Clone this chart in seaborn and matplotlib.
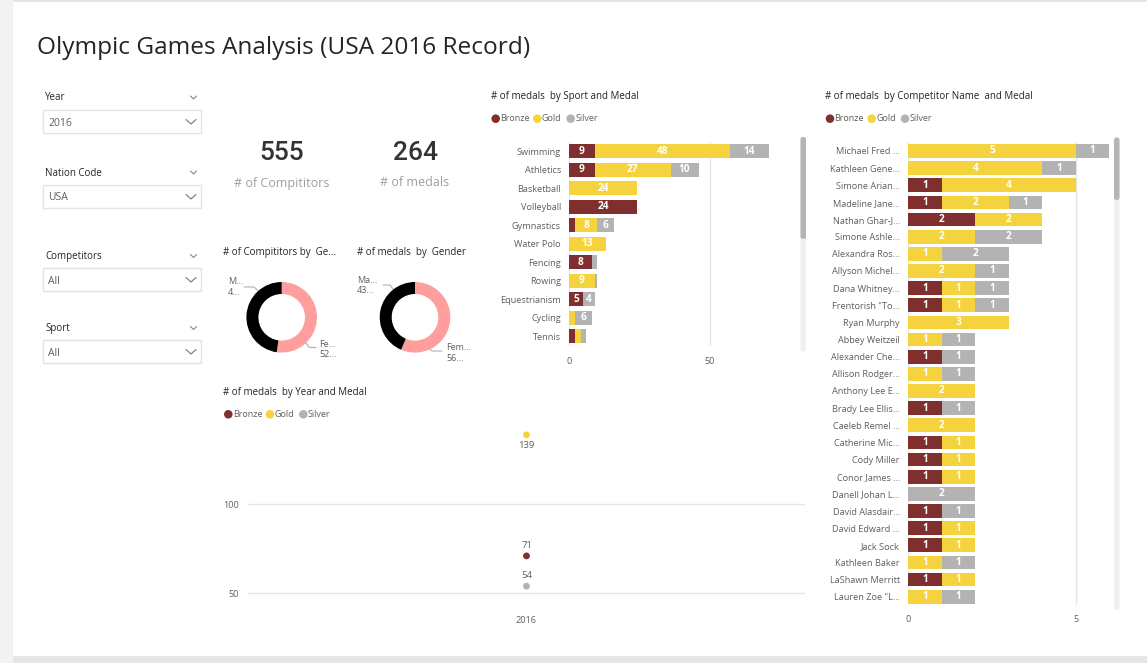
import numpy as np
import pandas as pd
import matplotlib
matplotlib.use("Agg")
import matplotlib.pyplot as plt
from matplotlib.patches import Rectangle, FancyBboxPatch
import seaborn as sns

W, H = 1147, 663

# ---- data ----
medal_types = ["Bronze", "Gold", "Silver"]
medal_colors = {"Bronze": "#7E2F2E", "Gold": "#F5D33F", "Silver": "#B3B3B3"}

sports = ["Swimming", "Athletics", "Basketball", "Volleyball", "Gymnastics", "Water Polo",
          "Fencing", "Rowing", "Equestrianism", "Cycling", "Tennis"]
sport_bronze = [9, 9, 0, 24, 2, 0, 8, 0, 5, 0, 2]
sport_gold = [48, 27, 24, 0, 8, 13, 0, 9, 0, 2, 2]
sport_silver = [14, 10, 0, 0, 6, 0, 2, 1, 4, 6, 2]

competitors = ["Michael Fred ...", "Kathleen Gene...", "Simone Arian...", "Madeline Jane...",
               "Nathan Ghar-J...", "Simone Ashle...", "Alexandra Ros...", "Allyson Michel...",
               "Dana Whitney...", "Frentorish \"To...", "Ryan Murphy", "Abbey Weitzeil",
               "Alexander Che...", "Allison Rodger...", "Anthony Lee E...", "Brady Lee Ellis...",
               "Caeleb Remel ...", "Catherine Mic...", "Cody Miller", "Conor James ...",
               "Danell Johan L...", "David Alasdair...", "David Edward ...", "Jack Sock",
               "Kathleen Baker", "LaShawn Merritt", "Lauren Zoe \"L..."]
comp_bronze = [0, 0, 1, 1, 2, 0, 0, 0, 1, 1, 0, 0, 1, 0, 0, 1, 0, 1, 1, 1, 0, 1, 1, 1, 0, 1, 0]
comp_gold = [5, 4, 4, 2, 2, 2, 1, 2, 1, 1, 3, 1, 0, 1, 2, 0, 2, 1, 1, 1, 0, 0, 1, 1, 1, 1, 1]
comp_silver = [1, 1, 0, 1, 0, 2, 2, 1, 1, 1, 0, 1, 1, 1, 0, 1, 0, 0, 0, 0, 2, 1, 0, 0, 1, 0, 1]

years = [2016]
year_bronze = [71]
year_gold = [139]
year_silver = [54]

genders = ["Female", "Male"]
gender_colors = ["#FE9F9E", "#000000"]
competitors_by_gender = [290, 265]
medals_by_gender = [149, 115]
comp_gender_labels = ["Fe...\n52...", "M...\n4..."]
medal_gender_labels = ["Fem...\n56...", "Ma...\n43..."]

total_competitors = 555
total_medals = sum(year_bronze) + sum(year_gold) + sum(year_silver)

slicer_titles = ["Year", "Nation Code", "Competitors", "Sport"]
slicer_values = ["2016", "USA", "All", "All"]

# ---- style ----
sns.set_style("white")
plt.rcParams["font.family"] = ["Open Sans", "DejaVu Sans"]
TXT = "#252423"
GREY = "#605E5C"

fig = plt.figure(figsize=(W / 100, H / 100), dpi=100)
fig.patch.set_facecolor("#E6E6E6")


def px_axes(x0, y0, x1, y1):
    return fig.add_axes([x0 / W, 1 - y1 / H, (x1 - x0) / W, (y1 - y0) / H])


bg = fig.add_axes([0, 0, 1, 1])
bg.set_xlim(0, W)
bg.set_ylim(H, 0)
bg.axis("off")
bg.add_patch(Rectangle((0, 0), 13, H, facecolor="#F1F2F3", edgecolor="none"))
bg.add_patch(Rectangle((13, 2), W - 13, 654, facecolor="white", edgecolor="none"))

bg.text(37, 48.5, "Olympic Games Analysis (USA 2016 Record)", fontsize=17.6, color=TXT,
        va="center", ha="left")

# slicers
label_y = [98, 173, 256.5, 328.5]
box_y = [110, 185, 268, 340]
for t, v, ly, by in zip(slicer_titles, slicer_values, label_y, box_y):
    bg.text(45, ly, t, fontsize=7, color=TXT, va="center")
    bg.plot([190.5, 193.5, 196.5], [ly - 2, ly + 1, ly - 2], color="#777777", lw=0.7)
    bg.add_patch(Rectangle((43, by), 158, 23, facecolor="white", edgecolor="#E4E4E4", lw=1))
    bg.text(48, by + 13, v, fontsize=7.5, color=GREY, va="center")
    bg.plot([186, 191, 196], [by + 9.5, by + 14, by + 9.5], color="#777777", lw=0.8)

# KPI cards
for cx, val, lab in [(281.7, total_competitors, "# of Compititors"), (415, total_medals, "# of medals")]:
    bg.text(cx, 153, f"{val}", fontsize=19, color="#333333", ha="center", va="center",
            family=["Roboto", "DejaVu Sans"], fontweight="medium")
    bg.text(cx, 183, lab, fontsize=9, color="#A19F9D", ha="center", va="center")


def legend(xs, y):
    for xx, m in zip(xs, medal_types):
        bg.scatter([xx], [y], s=38, color=medal_colors[m], edgecolors="none", zorder=5)
        bg.text(xx + 4.5, y, m, fontsize=6.5, color=GREY, va="center")


def scrollbar(x, y0, y1, t1):
    bg.add_patch(FancyBboxPatch((x, y0), 5.5, y1 - y0, boxstyle="round,pad=0,rounding_size=2.5",
                                facecolor="#F0F0F0", edgecolor="none"))
    bg.add_patch(FancyBboxPatch((x, y0), 5.5, t1 - y0, boxstyle="round,pad=0,rounding_size=2.5",
                                facecolor="#B5B5B5", edgecolor="none"))


def stacked_barh(ax, names, bronze, gold, silver, width, label_min):
    df = pd.DataFrame({"name": names, "Bronze": bronze, "Gold": gold, "Silver": silver})
    df["bg"] = df["Bronze"] + df["Gold"]
    df["all"] = df["bg"] + df["Silver"]
    for col, m in [("all", "Silver"), ("bg", "Gold"), ("Bronze", "Bronze")]:
        sns.barplot(data=df, x=col, y="name", color=medal_colors[m], saturation=1,
                    width=width, errorbar=None, linewidth=0, ax=ax)
    for i, r in df.iterrows():
        start = 0
        for m in medal_types:
            v = r[m]
            if v >= label_min:
                ax.text(start + v / 2, i, f"{v}", color="white", fontsize=7.3,
                        fontweight="bold", ha="center", va="center")
            start += v
    ax.set_xlabel("")
    ax.set_ylabel("")
    sns.despine(ax=ax, left=True, bottom=True)
    ax.grid(axis="x", color="#E6E6E6", lw=1)
    ax.grid(axis="y", visible=False)
    ax.set_axisbelow(True)
    ax.tick_params(axis="y", length=0, pad=6, labelsize=6.6, labelcolor=GREY)
    ax.set_facecolor("none")


# ---- sport chart ----
bg.text(491, 96.5, "# of medals  by Sport and Medal", fontsize=7.0, color=TXT, va="center")
legend([495.7, 537.3, 570.7], 118.7)
ax1 = px_axes(569.3, 142, 795, 345.5)
stacked_barh(ax1, sports, sport_bronze, sport_gold, sport_silver, 0.74, 4)
ax1.set_xlim(0, (795 - 569.3) * 50 / (710 - 569.3))
ax1.set_xticks([0, 50])
ax1.tick_params(axis="x", length=0, pad=8, labelsize=6.6, labelcolor=GREY)
scrollbar(800.5, 137, 351.5, 239)

# ---- competitor chart ----
bg.text(825, 96.5, "# of medals  by Competitor Name  and Medal", fontsize=7.0, color=TXT, va="center")
legend([830, 871.7, 905], 118.7)
ax2 = px_axes(908.3, 142.4, 1110, 605.3)
stacked_barh(ax2, competitors, comp_bronze, comp_gold, comp_silver, 0.8, 1)
ax2.set_xlim(0, (1110 - 908.3) * 5 / (1075.7 - 908.3))
ax2.set_xticks([0, 5])
ax2.tick_params(axis="x", length=0, pad=7, labelsize=6.6, labelcolor=GREY)
scrollbar(1114, 137.5, 610, 200)

# ---- donuts ----
def donut(cx, cy, values, labels, title, tx, lab_pos, lines):
    R = 35.3
    ax = px_axes(cx - R, cy - R, cx + R, cy + R)
    ax.pie(values, colors=gender_colors, startangle=90, counterclock=False, radius=1,
           wedgeprops=dict(width=0.34, linewidth=0))
    ax.set_xlim(-1, 1)
    ax.set_ylim(-1, 1)
    ax.set_aspect("auto")
    bg.text(tx, 252, title, fontsize=7.0, color=TXT, va="center")
    for lab, (lx, ly) in zip(labels, lab_pos):
        bg.text(lx, ly, lab, fontsize=6.5, color=GREY, ha="left", va="center", linespacing=1.25)
    for xs, ys in lines:
        bg.plot(xs, ys, color="#B0B0B0", lw=0.8)


donut(281.7, 317.3, competitors_by_gender, comp_gender_labels, "# of Compititors by  Ge...", 223,
      [(319, 349.5), (228, 287)],
      [([305, 309.5, 316], [342, 347.5, 347.5]), ([244, 254, 258], [287, 287, 290.5])])
donut(415, 317.3, medals_by_gender, medal_gender_labels, "# of medals  by  Gender", 357,
      [(446, 353), (357, 285.5)],
      [([427, 432, 442], [346, 351, 351]), ([383, 390, 393], [285, 285, 289])])

# ---- year chart ----
bg.text(223, 392.5, "# of medals  by Year and Medal", fontsize=7.0, color=TXT, va="center")
legend([228.3, 270, 303.3], 414.3)
year_df = pd.DataFrame({"Year": years * 3,
                        "Medal": ["Bronze"] * len(years) + ["Gold"] * len(years) + ["Silver"] * len(years),
                        "medals": year_bronze + year_gold + year_silver})
ax3 = px_axes(248, 425, 805, 610)
sns.scatterplot(data=year_df, x="Year", y="medals", hue="Medal", palette=medal_colors,
                s=24, edgecolor="none", legend=False, ax=ax3, zorder=3)
for _, r in year_df.iterrows():
    off = -11 if r["Medal"] == "Gold" else 10.5
    ax3.annotate(f"{r['medals']}", (r["Year"], r["medals"]), xytext=(0, off * 0.72),
                 textcoords="offset points", ha="center", va="center", fontsize=6.8, color=GREY)
ppu = (593.3 - 504.3) / 50
ax3.set_ylim(50 - (610 - 593.3) / ppu, 50 + (593.3 - 425) / ppu)
ax3.set_xlim(years[0] - 0.5, years[-1] + 0.5)
ax3.set_xticks(years)
ax3.set_yticks([50, 100])
ax3.set_xlabel("")
ax3.set_ylabel("")
sns.despine(ax=ax3, left=True, bottom=True)
ax3.grid(axis="y", color="#E6E6E6", lw=1)
ax3.grid(axis="x", visible=False)
ax3.set_axisbelow(True)
ax3.set_facecolor("none")
ax3.tick_params(axis="y", length=0, pad=6.5, labelsize=6.6, labelcolor=GREY)
ax3.tick_params(axis="x", length=0, pad=4, labelsize=6.6, labelcolor=GREY)

fig.savefig("out.png", dpi=100)
